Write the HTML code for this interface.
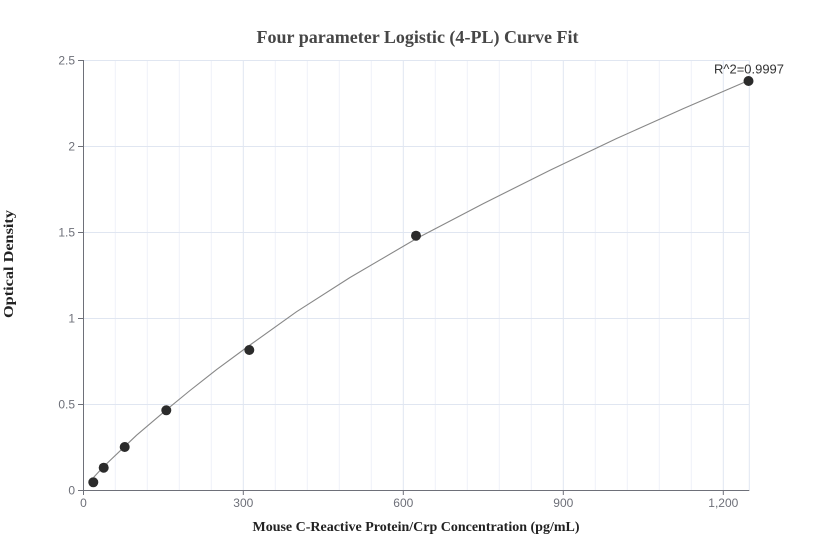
<!DOCTYPE html>
<html>
<head>
<meta charset="utf-8">
<style>
html,body{margin:0;padding:0;background:#fff;}
svg{display:block;}
</style>
</head>
<body>
<svg width="832" height="560" viewBox="0 0 832 560" xmlns="http://www.w3.org/2000/svg">
<rect width="832" height="560" fill="#ffffff"/>
<!-- minor vertical grid -->
<g stroke="#eef1f8" stroke-width="1">
<line x1="115.3" y1="60" x2="115.3" y2="490"/>
<line x1="147.3" y1="60" x2="147.3" y2="490"/>
<line x1="179.3" y1="60" x2="179.3" y2="490"/>
<line x1="211.3" y1="60" x2="211.3" y2="490"/>
<line x1="275.3" y1="60" x2="275.3" y2="490"/>
<line x1="307.3" y1="60" x2="307.3" y2="490"/>
<line x1="339.3" y1="60" x2="339.3" y2="490"/>
<line x1="371.3" y1="60" x2="371.3" y2="490"/>
<line x1="435.3" y1="60" x2="435.3" y2="490"/>
<line x1="467.3" y1="60" x2="467.3" y2="490"/>
<line x1="499.3" y1="60" x2="499.3" y2="490"/>
<line x1="531.3" y1="60" x2="531.3" y2="490"/>
<line x1="595.3" y1="60" x2="595.3" y2="490"/>
<line x1="627.3" y1="60" x2="627.3" y2="490"/>
<line x1="659.3" y1="60" x2="659.3" y2="490"/>
<line x1="691.3" y1="60" x2="691.3" y2="490"/>
</g>
<!-- major grid -->
<g stroke="#e0e6f1" stroke-width="1">
<line x1="243.3" y1="60" x2="243.3" y2="490"/>
<line x1="403.3" y1="60" x2="403.3" y2="490"/>
<line x1="563.3" y1="60" x2="563.3" y2="490"/>
<line x1="723.3" y1="60" x2="723.3" y2="490"/>
<line x1="749.3" y1="60" x2="749.3" y2="490"/>
<line x1="83" y1="60.5" x2="749.3" y2="60.5"/>
<line x1="83" y1="146.5" x2="749.3" y2="146.5"/>
<line x1="83" y1="232.5" x2="749.3" y2="232.5"/>
<line x1="83" y1="318.5" x2="749.3" y2="318.5"/>
<line x1="83" y1="404.5" x2="749.3" y2="404.5"/>
</g>
<!-- axes -->
<g stroke="#6e7079" stroke-width="1">
<line x1="83.5" y1="60" x2="83.5" y2="490"/>
<line x1="83" y1="490.5" x2="749.3" y2="490.5"/>
<line x1="78" y1="60.5" x2="83" y2="60.5"/>
<line x1="78" y1="146.5" x2="83" y2="146.5"/>
<line x1="78" y1="232.5" x2="83" y2="232.5"/>
<line x1="78" y1="318.5" x2="83" y2="318.5"/>
<line x1="78" y1="404.5" x2="83" y2="404.5"/>
<line x1="78" y1="490.5" x2="83" y2="490.5"/>
<line x1="83.5" y1="490" x2="83.5" y2="495"/>
<line x1="243.3" y1="490" x2="243.3" y2="495"/>
<line x1="403.3" y1="490" x2="403.3" y2="495"/>
<line x1="563.3" y1="490" x2="563.3" y2="495"/>
<line x1="723.3" y1="490" x2="723.3" y2="495"/>
</g>
<!-- tick labels -->
<g font-family="Liberation Sans, sans-serif" font-size="12" fill="#6e7079">
<text x="75" y="64.5" text-anchor="end">2.5</text>
<text x="75" y="150.5" text-anchor="end">2</text>
<text x="75" y="236.5" text-anchor="end">1.5</text>
<text x="75" y="322.5" text-anchor="end">1</text>
<text x="75" y="408.5" text-anchor="end">0.5</text>
<text x="75" y="494.5" text-anchor="end">0</text>
<text x="83.5" y="507" text-anchor="middle">0</text>
<text x="243.3" y="507" text-anchor="middle">300</text>
<text x="403.3" y="507" text-anchor="middle">600</text>
<text x="563.3" y="507" text-anchor="middle">900</text>
<text x="723.3" y="507" text-anchor="middle">1,200</text>
</g>
<!-- curve -->
<polyline fill="none" stroke="#888888" stroke-width="1.1" stroke-linejoin="round"
points="93.7,477.2 99.3,471.2 104.1,466.2 110,460.5 124.9,446.3 136.6,435.2 166,410.2 190,390.5 216.6,369.6 249.3,345.5 296.6,311.7 350,277.5 416.6,238.5 483.3,203.6 550,170.3 616.6,138.5 683.3,108.6 748.5,80.5"/>
<!-- points -->
<g fill="#2b2b2b">
<circle cx="93.3" cy="482.3" r="5"/>
<circle cx="103.7" cy="467.7" r="5"/>
<circle cx="124.7" cy="447" r="5"/>
<circle cx="166.3" cy="410.3" r="5"/>
<circle cx="249.3" cy="350" r="5"/>
<circle cx="416" cy="235.7" r="5"/>
<circle cx="748.5" cy="81" r="5"/>
</g>
<text x="749" y="73.5" text-anchor="middle" font-family="Liberation Sans, sans-serif" font-size="13" fill="#333" textLength="70" lengthAdjust="spacingAndGlyphs">R^2=0.9997</text>
<!-- title -->
<text x="417.5" y="43" text-anchor="middle" font-family="Liberation Serif, serif" font-weight="bold" font-size="18" fill="#464646" textLength="322" lengthAdjust="spacingAndGlyphs">Four parameter Logistic (4-PL) Curve Fit</text>
<!-- x label -->
<text x="416" y="531" text-anchor="middle" font-family="Liberation Serif, serif" font-weight="bold" font-size="14" fill="#222" textLength="327" lengthAdjust="spacingAndGlyphs">Mouse C-Reactive Protein/Crp Concentration (pg/mL)</text>
<!-- y label -->
<text transform="translate(13,264) rotate(-90)" x="0" y="0" text-anchor="middle" font-family="Liberation Serif, serif" font-weight="bold" font-size="14" fill="#222" textLength="108" lengthAdjust="spacingAndGlyphs">Optical Density</text>
</svg>
</body>
</html>
